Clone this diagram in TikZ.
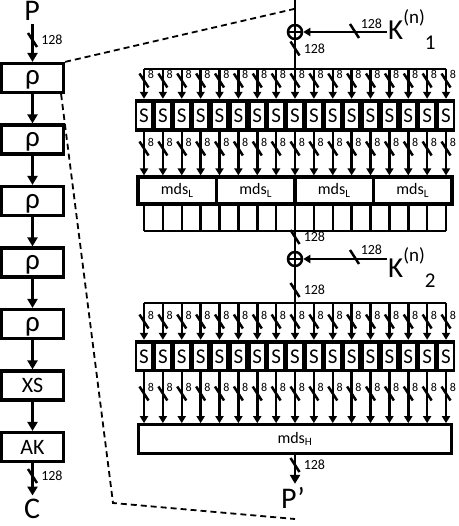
\documentclass[tikz,border=0pt]{standalone}
\usepackage{fontspec}
\setmainfont{Carlito}
\usetikzlibrary{arrows.meta,calc}

\tikzset{
  wire/.style={line width=2.5pt},
  arr/.style={wire, -{Triangle[width=8pt,length=7pt]}},
  bigarr/.style={wire, -{Triangle[width=10pt,length=9pt]}},
  slash/.style={line width=2.5pt},
  rbox/.style={draw, line width=3.2pt, minimum width=62pt, minimum height=29pt, inner sep=0pt,
    text height=14pt, text depth=0pt, font=\fontsize{22}{22}\selectfont},
  sback/.style={fill=black, minimum width=320pt, minimum height=33pt, inner sep=0pt},
  scell/.style={fill=white, minimum width=13.5pt, minimum height=25pt, inner sep=0pt,
    text height=15pt, text depth=0pt, font=\fontsize{21}{21}\selectfont},
  mdsbox/.style={draw, line width=3.2pt, minimum height=27pt, inner sep=0pt, font=\fontsize{16}{16}\selectfont},
  xorc/.style={circle, draw, line width=2.5pt, minimum size=14pt, inner sep=0pt,
    path picture={\draw[line width=2.5pt] (path picture bounding box.north) -- (path picture bounding box.south)
      (path picture bounding box.west) -- (path picture bounding box.east);}},
  w8/.style={anchor=south west, inner sep=0pt, xshift=2.5pt, yshift=1pt, font=\fontsize{12}{12}\selectfont},
  w128/.style={anchor=west, inner sep=0pt, xshift=7.5pt, font=\fontsize{14}{14}\selectfont},
  wkey/.style={anchor=south west, inner sep=0pt, xshift=5pt, yshift=1.5pt, font=\fontsize{14}{14}\selectfont},
  lbl/.style={anchor=base, inner sep=0pt, outer sep=3pt, font=\fontsize{30}{30}\selectfont},
  zoomline/.style={line width=1.8pt, dash pattern=on 6pt off 4pt}
}

% bus width mark: name, x, y, label, style
\newcommand{\busw}[5]{\draw[slash] (#2,#3) +(-4.5,-7) -- +(4.5,7) node[#5] (#1) at (#2,#3) {#4};}
% round key label
\newcommand{\keylbl}[1]{\fontsize{29}{29}\selectfont K\raisebox{16pt}{\fontsize{19}{19}\selectfont (n)}\raisebox{-10pt}{\fontsize{21}{21}\selectfont #1}}
\newcommand{\rhotxt}{{\fontsize{29}{29}\selectfont ρ}}

\begin{document}
\begin{tikzpicture}[x=1pt,y=-1pt]
\useasboundingbox (0,0) rectangle (458,526);

% Left column: the rounds
\node[lbl] (P) at (32,21) {P};
\node[rbox] (r1) at (32.5,78) {\rhotxt};
\node[rbox] (r2) at (32.5,139.5) {\rhotxt};
\node[rbox] (r3) at (32.5,201) {\rhotxt};
\node[rbox] (r4) at (32.5,262.5) {\rhotxt};
\node[rbox] (r5) at (32.5,324) {\rhotxt};
\node[rbox] (xs) at (32.5,385.5) {XS};
\node[rbox] (ak) at (32.5,447) {AK};
\node[lbl] (C) at (32,518) {C};

\draw[bigarr] (r1.north |- P.south) -- (r1.north);
\busw{wP}{32.5}{40}{128}{w128}
\draw[bigarr] (r1) -- (r2);
\draw[bigarr] (r2) -- (r3);
\draw[bigarr] (r3) -- (r4);
\draw[bigarr] (r4) -- (r5);
\draw[bigarr] (r5) -- (xs);
\draw[bigarr] (xs) -- (ak);
\draw[bigarr] (ak) -- (ak.south |- C.north);
\busw{wC}{32.5}{476}{128}{w128}

% Zoom lines
\coordinate (zt) at (294,9);
\coordinate (zc) at (113,503);
\coordinate (ze) at (295,519);
\draw[zoomline] (r1.north east) -- (zt);
\draw[zoomline] ([xshift=-4pt]r1.south east) -- (zc) -- (ze);

% First key addition
\coordinate (top) at (295,0);
\node[xorc] (x1) at (295,32) {};
\coordinate (k1) at (387,32);
\draw[wire] (top) -- (x1.north);
\draw[arr] (k1) -- (x1.east);
\busw{wk1}{354.5}{31}{128}{wkey}
\node[anchor=base west, inner sep=0pt] (K1) at (388,40) {\keylbl{1}};

% First S-box layer
\node[sback] (srow1) at (295,115.5) {};
\foreach \i in {0,...,16} {
  \coordinate (b1-\i) at (144+18.875*\i,69);
  \coordinate (g-\i) at (144+18.875*\i,231);
  \node[scell] (s1-\i) at (144+18.875*\i,115.5) {S};
}
\draw[wire] (x1.south) -- (b1-8);
\busw{wx1}{295}{48.5}{128}{w128}
\draw[wire] (b1-0) -- (b1-16);

% mds_L layer
\foreach \k in {0,...,3}
  \node[mdsbox, minimum width=78.5pt] (mdsL\k) at (177.25+78.5*\k,190.5) {mds\textsubscript{L}};

\foreach \i in {0,...,16} {
  \draw[arr] (b1-\i) -- (s1-\i.north |- srow1.north);
  \busw{a1-\i}{144+18.875*\i}{80.5}{8}{w8}
  \draw[arr] (s1-\i.south |- srow1.south) -- (s1-\i.south |- mdsL0.north);
  \busw{c1-\i}{144+18.875*\i}{148.5}{8}{w8}
  \draw[wire] (g-\i |- mdsL0.south) -- (g-\i);
}
\draw[wire] (g-0) -- (g-16);

% Second key addition
\node[xorc] (x2) at (295,259) {};
\coordinate (k2) at (387,259);
\draw[wire] (g-8) -- (x2.north);
\busw{wg}{295}{237}{128}{w128}
\draw[arr] (k2) -- (x2.east);
\busw{wk2}{354.5}{257}{128}{wkey}
\node[anchor=base west, inner sep=0pt] (K2) at (388,277) {\keylbl{2}};

% Second S-box layer
\node[sback, minimum height=32pt] (srow2) at (295,356) {};
\foreach \i in {0,...,16} {
  \coordinate (b2-\i) at (144+18.875*\i,303);
  \node[scell] (s2-\i) at (144+18.875*\i,356) {S};
}
\draw[wire] (x2.south) -- (b2-8);
\busw{wx2}{295}{290}{128}{w128}
\draw[wire] (b2-0) -- (b2-16);

% mds_H layer
\node[mdsbox, minimum width=313pt, minimum height=28.5pt] (mdsH) at (295,439) {mds\textsubscript{H}};
\foreach \i in {0,...,16} {
  \draw[arr] (b2-\i) -- (s2-\i.north |- srow2.north);
  \busw{a2-\i}{144+18.875*\i}{321.5}{8}{w8}
  \draw[arr] (s2-\i.south |- srow2.south) -- (s2-\i.south |- mdsH.north);
  \busw{c2-\i}{144+18.875*\i}{393.5}{8}{w8}
}

% Output
\node[lbl] (Pp) at (293,508) {P’};
\draw[bigarr] (mdsH.south) -- (mdsH.south |- Pp.north);
\busw{wo}{295}{465}{128}{w128}

\end{tikzpicture}
\end{document}
